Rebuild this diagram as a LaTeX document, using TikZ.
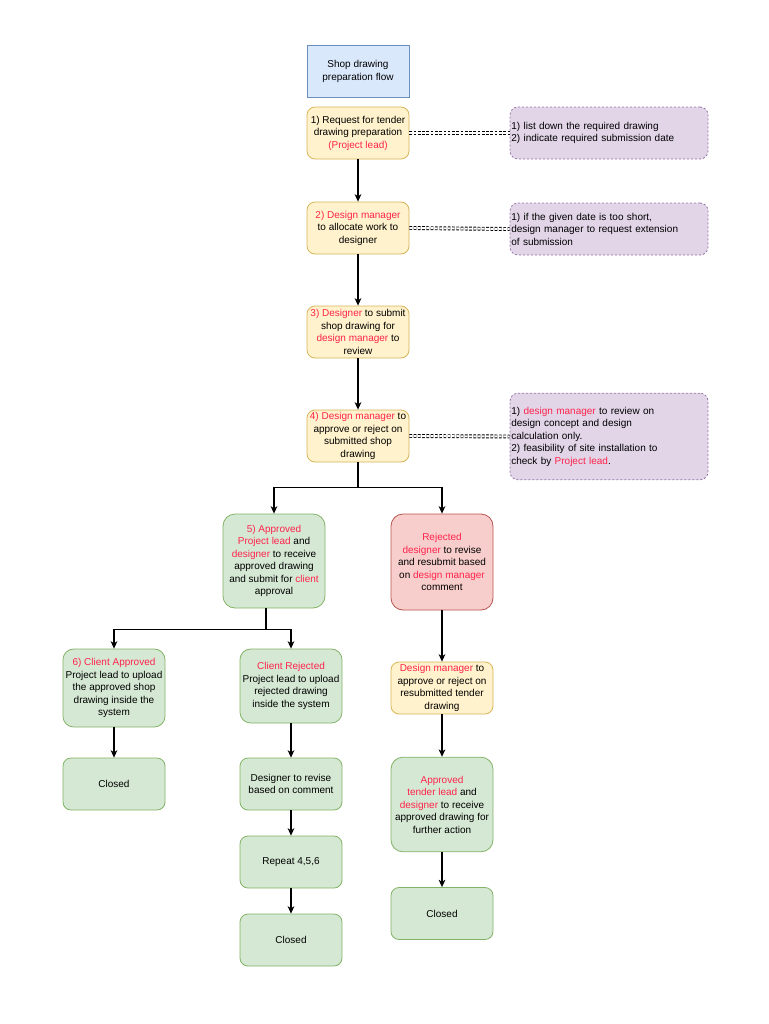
\documentclass[tikz,border=0pt]{standalone}
\usepackage{fontspec}
\setmainfont{Liberation Sans}
\usetikzlibrary{arrows.meta}

\definecolor{roleRed}{RGB}{255,35,75}
\definecolor{blueFill}{HTML}{DAE8FC}
\definecolor{blueLine}{HTML}{6C8EBF}
\definecolor{yelFill}{HTML}{FFF2CC}
\definecolor{yelLine}{HTML}{D6B656}
\definecolor{purFill}{HTML}{E1D5E7}
\definecolor{purLine}{HTML}{9673A6}
\definecolor{grnFill}{HTML}{D5E8D4}
\definecolor{grnLine}{HTML}{82B366}
\definecolor{redFill}{HTML}{F8CECC}
\definecolor{redLine}{HTML}{B85450}

\newcommand{\role}[1]{\textcolor{roleRed}{#1}}

\begin{document}
\begin{tikzpicture}[x=0.75pt,y=-0.75pt,
  every node/.style={font=\fontsize{7.5}{9.4}\selectfont, align=center, inner sep=1pt},
  box/.style={draw, line width=0.6pt, rounded corners=6pt, minimum width=76.5pt, minimum height=39pt},
  titlebox/.style={box, rounded corners=0pt, fill=blueFill, draw=blueLine},
  ybox/.style={box, fill=yelFill, draw=yelLine},
  gbox/.style={box, fill=grnFill, draw=grnLine},
  rbox/.style={box, fill=redFill, draw=redLine},
  note/.style={box, fill=purFill, draw=purLine, dash pattern=on 1.5pt off 1.5pt,
    minimum width=148.5pt, text width=146.5pt, align=left},
  link/.style={line width=0.7pt, double, double distance=1.5pt, dash pattern=on 2pt off 1.2pt},
  arr/.style={->, >={Stealth[length=5.5pt,width=5pt,inset=1.5pt]}, line width=0.8pt}
]

\useasboundingbox (0,0) rectangle (768,1024);

% Draw the main column
\node[titlebox] (title) at (358,71.5) {Shop drawing\\preparation flow};
\node[ybox] (req) at (358,133) {1) Request for tender\\drawing preparation\\\role{(Project lead)}};
\node[ybox] (alloc) at (358,228) {\role{2) Design manager}\\to allocate work to\\designer};
\node[ybox] (submit) at (358,332) {\role{3) Designer} to submit\\shop drawing for\\\role{design manager} to\\review};
\node[ybox] (check) at (358,436) {\role{4) Design manager} to\\approve or reject on\\submitted shop\\drawing};

% Draw the notes on the right
\node[note] (noteA) at (609,133) {1) list down the required drawing\\2) indicate required submission date};
\node[note] (noteB) at (609,229) {1) if the given date is too short,\\design manager to request extension\\of submission};
\node[note, minimum height=65pt] (noteC) at (609,436.5) {1) \role{design manager} to review on\\design concept and design\\calculation only.\\2) feasibility of site installation to\\check by \role{Project lead}.};

% Draw the two branches
\node[gbox, minimum height=70.5pt, rounded corners=9pt] (appr) at (274,561) {\role{5) Approved}\\\role{Project lead} and\\\role{designer} to receive\\approved drawing\\and submit for \role{client}\\approval};
\node[rbox, minimum height=72pt, rounded corners=9pt] (rej) at (442,562) {\role{Rejected}\\\role{designer} to revise\\and resubmit based\\on \role{design manager}\\comment};

% Draw the client branch
\node[gbox, minimum height=58.5pt, rounded corners=8pt] (cliOk) at (114,688) {\role{6) Client Approved}\\Project lead to upload\\the approved shop\\drawing inside the\\system};
\node[gbox] (closeA) at (114,784) {Closed};
\node[gbox, minimum height=55.5pt, rounded corners=8pt] (cliRej) at (291,686) {\role{Client Rejected}\\Project lead to upload\\rejected drawing\\inside the system};
\node[gbox] (revise) at (291,784) {Designer to revise\\based on comment};
\node[gbox] (repeat) at (291,862) {Repeat 4,5,6};
\node[gbox] (closeB) at (291,940) {Closed};

% Draw the resubmission branch
\node[ybox] (recheck) at (442,688) {\role{Design manager} to\\approve or reject on\\resubmitted tender\\drawing};
\node[gbox, minimum height=71pt, rounded corners=9pt] (final) at (442,804.5) {\role{Approved}\\\role{tender lead} and\\\role{designer} to receive\\approved drawing for\\further action};
\node[gbox] (closeC) at (442,913.5) {Closed};

% Draw the links to the notes
\draw[link] (req.east) -- (noteA.west);
\draw[link] (alloc.east) -- (noteB.west);
\draw[link] (check.east) -- (noteC.west);

% Draw the arrows
\draw[arr] (req) -- (alloc);
\draw[arr] (alloc) -- (submit);
\draw[arr] (submit) -- (check);
\draw[arr] (check.south) -- ++(0,25) -| (appr.north);
\draw[arr] (check.south) -- ++(0,25) -| (rej.north);
\draw[arr] ([xshift=-6pt]appr.south) -- ++(0,21) -| (cliOk.north);
\draw[arr] ([xshift=-6pt]appr.south) -- ++(0,21) -| (cliRej.north);
\draw[arr] (cliOk) -- (closeA);
\draw[arr] (cliRej) -- (revise);
\draw[arr] (revise) -- (repeat);
\draw[arr] (repeat) -- (closeB);
\draw[arr] (rej) -- (recheck);
\draw[arr] (recheck) -- (final);
\draw[arr] (final) -- (closeC);

\end{tikzpicture}
\end{document}
